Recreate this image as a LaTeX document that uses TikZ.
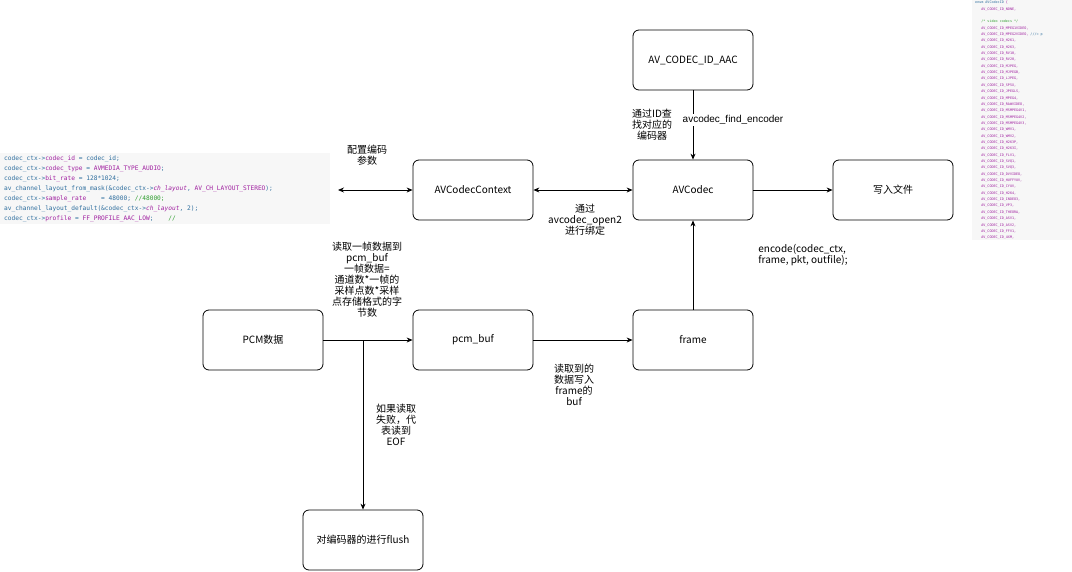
\documentclass[tikz,border=0pt]{standalone}
\usepackage{fontspec}
\setmainfont{Liberation Sans}
\newfontfamily\cjk{Noto Sans CJK SC}
\newfontfamily\mono{DejaVu Sans Mono}
\usetikzlibrary{arrows.meta}
\definecolor{kw}{HTML}{A020A0}
\definecolor{fn}{HTML}{2E6E9E}
\definecolor{cm}{HTML}{2E9E2E}
\begin{document}
\begin{tikzpicture}[x=1pt,y=-1pt,
  box/.style={draw,rounded corners=6pt,minimum width=120pt,minimum height=60pt,font=\cjk\fontsize{10}{12}\selectfont,line width=0.8pt},
  lbl/.style={font=\cjk\fontsize{10}{11}\selectfont,align=center,fill=white,inner sep=1pt},
  arr/.style={-{Stealth[length=6pt,width=5pt]},line width=0.8pt},
  darr/.style={{Stealth[length=6pt,width=5pt]}-{Stealth[length=6pt,width=5pt]},line width=0.8pt}]
\useasboundingbox (0,0) rectangle (1072,571);
\fill[white] (0,0) rectangle (1072,571);
% code block
\fill[black!3] (0,153) rectangle (330,224);
\node[anchor=north west,align=left,inner sep=0pt,font=\mono\fontsize{6.2}{9.9}\selectfont,text=fn] (code) at (4,156) {%
codec\_ctx->\textcolor{kw}{codec\_id} = codec\_id;\\
codec\_ctx->\textcolor{kw}{codec\_type} = \textcolor{kw}{AVMEDIA\_TYPE\_AUDIO};\\
codec\_ctx->\textcolor{kw}{bit\_rate} = 128*1024;\\
av\_channel\_layout\_from\_mask(\&codec\_ctx->\textcolor{kw}{\itshape ch\_layout}, \textcolor{kw}{AV\_CH\_LAYOUT\_STEREO});\\
codec\_ctx->\textcolor{kw}{sample\_rate}\ \ \ \ = 48000; \textcolor{cm}{//48000;}\\
av\_channel\_layout\_default(\&codec\_ctx->\textcolor{kw}{\itshape ch\_layout}, 2);\\
codec\_ctx->\textcolor{kw}{profile} = \textcolor{kw}{FF\_PROFILE\_AAC\_LOW};\ \ \ \ \textcolor{cm}{//}};
\coordinate (codeR) at (338,190);
% right code image
\fill[black!3] (972,0) rectangle (1072,240);
\node[anchor=north west,align=left,inner sep=0pt,font=\mono\fontsize{3.4}{6.35}\selectfont,text=kw] (enum) at (975,1) {%
\textcolor{fn}{enum} \textcolor{fn}{AVCodecID} \{\\
\ \ \ AV\_CODEC\_ID\_NONE,\\ \\
\ \ \ \textcolor{cm}{/* video codecs */}\\
\ \ \ AV\_CODEC\_ID\_MPEG1VIDEO,\\
\ \ \ AV\_CODEC\_ID\_MPEG2VIDEO, \textcolor{fn}{///< p}\\
\ \ \ AV\_CODEC\_ID\_H261,\\
\ \ \ AV\_CODEC\_ID\_H263,\\
\ \ \ AV\_CODEC\_ID\_RV10,\\
\ \ \ AV\_CODEC\_ID\_RV20,\\
\ \ \ AV\_CODEC\_ID\_MJPEG,\\
\ \ \ AV\_CODEC\_ID\_MJPEGB,\\
\ \ \ AV\_CODEC\_ID\_LJPEG,\\
\ \ \ AV\_CODEC\_ID\_SP5X,\\
\ \ \ AV\_CODEC\_ID\_JPEGLS,\\
\ \ \ AV\_CODEC\_ID\_MPEG4,\\
\ \ \ AV\_CODEC\_ID\_RAWVIDEO,\\
\ \ \ AV\_CODEC\_ID\_MSMPEG4V1,\\
\ \ \ AV\_CODEC\_ID\_MSMPEG4V2,\\
\ \ \ AV\_CODEC\_ID\_MSMPEG4V3,\\
\ \ \ AV\_CODEC\_ID\_WMV1,\\
\ \ \ AV\_CODEC\_ID\_WMV2,\\
\ \ \ AV\_CODEC\_ID\_H263P,\\
\ \ \ AV\_CODEC\_ID\_H263I,\\
\ \ \ AV\_CODEC\_ID\_FLV1,\\
\ \ \ AV\_CODEC\_ID\_SVQ1,\\
\ \ \ AV\_CODEC\_ID\_SVQ3,\\
\ \ \ AV\_CODEC\_ID\_DVVIDEO,\\
\ \ \ AV\_CODEC\_ID\_HUFFYUV,\\
\ \ \ AV\_CODEC\_ID\_CYUV,\\
\ \ \ AV\_CODEC\_ID\_H264,\\
\ \ \ AV\_CODEC\_ID\_INDEO3,\\
\ \ \ AV\_CODEC\_ID\_VP3,\\
\ \ \ AV\_CODEC\_ID\_THEORA,\\
\ \ \ AV\_CODEC\_ID\_ASV1,\\
\ \ \ AV\_CODEC\_ID\_ASV2,\\
\ \ \ AV\_CODEC\_ID\_FFV1,\\
\ \ \ AV\_CODEC\_ID\_4XM,};
% boxes
\node[box] (ctx) at (473,190) {AVCodecContext};
\node[box] (codec) at (693,190) {AVCodec};
\node[box] (aac) at (693,60) {AV\_CODEC\_ID\_AAC};
\node[box] (file) at (893,190) {写入文件};
\node[box] (pcm) at (263,340) {PCM数据};
\node[box] (buf) at (473,340) {pcm\_buf};
\node[box] (frame) at (693,340) {frame};
\node[box] (flush) at (363,540) {对编码器的进行flush};
\coordinate (split) at (363,340);
% connectors
\draw[darr] (codeR) -- (ctx);
\draw[darr] (ctx) -- (codec);
\draw[arr] (aac) -- (codec);
\draw[arr] (codec) -- (file);
\draw[arr] (pcm) -- (buf);
\draw[arr] (split) -- (flush);
\draw[arr] (buf) -- (frame);
\draw[arr] (frame) -- (codec);
% labels
\node[lbl] at (367,155) {配置编码\\参数};
\node[lbl] at (585,220) {通过\\avcodec\_open2\\进行绑定};
\node[lbl] at (652,125) {通过ID查\\找对应的\\编码器};
\node[font=\fontsize{10}{12}\selectfont,inner sep=1pt,fill=white] at (733,120) {avcodec\_find\_encoder};
\node[lbl,fill=none] at (367,280) {读取一帧数据到\\pcm\_buf\\一帧数据=\\通道数*一帧的\\采样点数*采样\\点存储格式的字\\节数};
\node[lbl] at (396,425) {如果读取\\失败，代\\表读到\\EOF};
\node[lbl] at (574,385) {读取到的\\数据写入\\frame的\\buf};
\node[lbl,align=left] at (803,255) {encode(codec\_ctx,\\frame, pkt, outfile);};
\end{tikzpicture}
\end{document}
